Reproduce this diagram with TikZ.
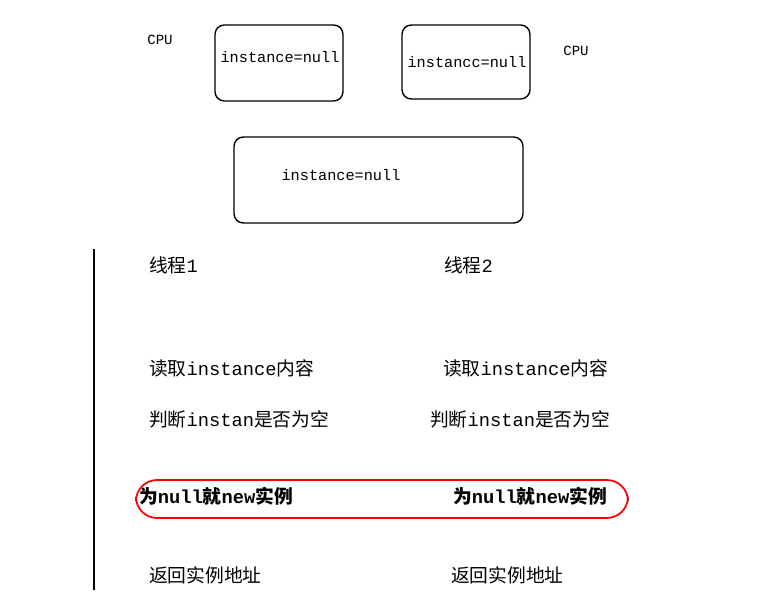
\documentclass[tikz,border=0pt]{standalone}
\usepackage{fontspec}
\setmonofont{Liberation Mono}
\newfontfamily\cjk{Noto Sans CJK SC}
\newcommand{\lt}[1]{{\ttfamily #1}}
\begin{document}
\begin{tikzpicture}[x=0.03cm,y=-0.03cm,
  box/.style={draw,line width=1.2pt,rounded corners=8pt},
  lbl/.style={font=\cjk\fontsize{16}{18}\selectfont,inner sep=0pt,anchor=west},
  blbl/.style={lbl,font=\cjk\bfseries\fontsize{16}{18}\selectfont},
  mono/.style={font=\ttfamily\fontsize{13}{15}\selectfont,inner sep=0pt}]
\useasboundingbox (0,0) rectangle (772,614);
\node[mono,font=\ttfamily\fontsize{12}{14}\selectfont] (cpu1) at (160,40) {CPU};
\node[mono,font=\ttfamily\fontsize{12}{14}\selectfont] (cpu2) at (576,51) {CPU};
\draw[box] (215,25) rectangle (343,101);
\node[mono] (t1) at (280,57) {instance=null};
\draw[box] (402,25) rectangle (530,99);
\node[mono] (t2) at (467,62) {instancc=null};
\draw[box] (234,137) rectangle (523,223);
\node[mono] (t3) at (341,175) {instance=null};
\draw[line width=2pt] (94,249) -- (94,590);
\node[lbl] (a1) at (149,265) {线程\lt{1}};
\node[lbl] (a2) at (444,265) {线程\lt{2}};
\node[lbl] (b1) at (149,368) {读取\lt{instance}内容};
\node[lbl] (b2) at (443,368) {读取\lt{instance}内容};
\node[lbl] (c1) at (149,419) {判断\lt{instan}是否为空};
\node[lbl] (c2) at (430,419) {判断\lt{instan}是否为空};
\node[blbl] (d1) at (139,496) {为\lt{\bfseries null}就\lt{\bfseries new}实例};
\node[blbl] (d2) at (453,496) {为\lt{\bfseries null}就\lt{\bfseries new}实例};
\draw[red,line width=1.5pt,rounded corners=18pt] (136,480) rectangle (628,518);
\node[lbl] (e1) at (149,575) {返回实例地址};
\node[lbl] (e2) at (451,575) {返回实例地址};
\end{tikzpicture}
\end{document}
